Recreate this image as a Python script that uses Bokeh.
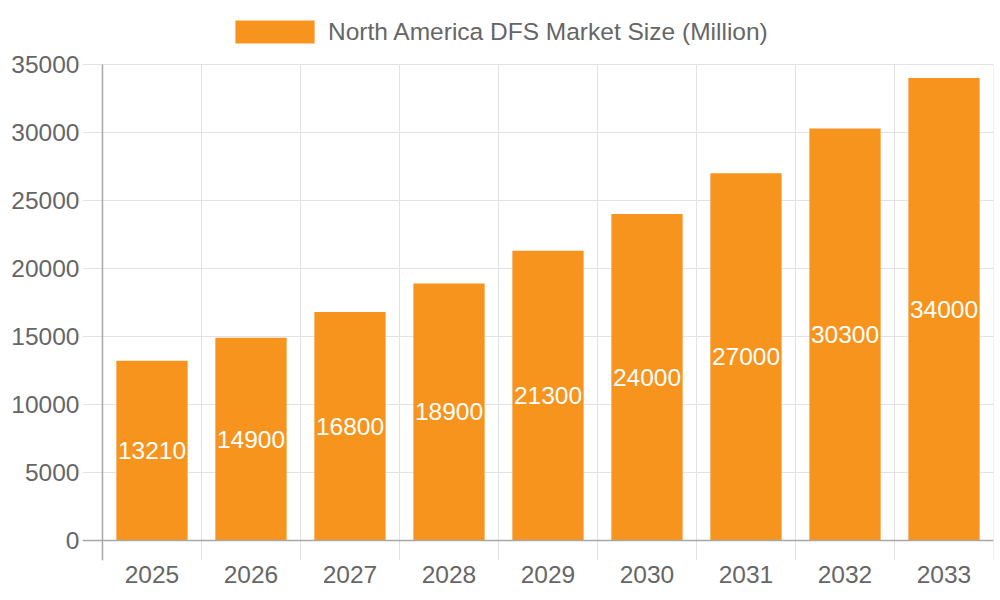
from bokeh.plotting import figure
from bokeh.embed import file_html
from bokeh.resources import INLINE
from bokeh.models import (ColumnDataSource, Range1d, FixedTicker, Span,
                          Legend, LegendItem)
from bokeh.core.properties import value

years = ["2025", "2026", "2027", "2028", "2029", "2030", "2031", "2032", "2033"]
market_size = [13210, 14900, 16800, 18900, 21300, 24000, 27000, 30300, 34000]
y_ticks = [0, 5000, 10000, 15000, 20000, 25000, 30000, 35000]
series_name = "North America DFS Market Size (Million)"

FONT = "Liberation Sans"
FSIZE = "24.5px"
BAR = "#F7941E"
TXT = "#666666"
GRID = "#e2e2e2"
AXIS = "#a8a8a8"

n = len(years)
centers = [i + 0.5 for i in range(n)]
boundaries = list(range(n + 1))

source = ColumnDataSource(dict(
    x=centers,
    top=market_size,
    mid=[v / 2 for v in market_size],
    label=[str(v) for v in market_size],
))

# frame reaches past the axes (tick marks) and up to the top (legend room)
px_per_unit = 476 / y_ticks[-1]
y_lo = -20 / px_per_unit
y_hi = y_ticks[-1] + 64 / px_per_unit
p = figure(
    width=1000, height=600,
    x_range=Range1d(-20 / 99.1, n),
    y_range=Range1d(y_lo, y_hi),
    output_backend="svg",
    toolbar_location=None,
    min_border_left=82, min_border_right=7,
    min_border_top=0, min_border_bottom=40,
)
p.outline_line_color = None

# vertical grid lines at category boundaries, stopping at the top tick
grid = ColumnDataSource(dict(x=boundaries,
                             y0=[y_lo] * len(boundaries),
                             y1=[y_ticks[-1]] * len(boundaries)))
p.segment(x0="x", y0="y0", x1="x", y1="y1", source=grid,
          line_color=GRID, line_width=1)
p.segment(x0=[0], y0=[y_lo], x1=[0], y1=[y_ticks[-1]],
          line_color=AXIS, line_width=1.5)

bars = p.vbar(x="x", top="top", width=0.72, source=source,
              fill_color=BAR, line_color=None)
p.text(x="x", y="mid", text="label", source=source,
       text_color="white", text_font=value(FONT), text_font_size=FSIZE,
       text_align="center", text_baseline="middle")

p.xaxis.ticker = FixedTicker(ticks=centers)
p.xaxis.major_label_overrides = {c: y for c, y in zip(centers, years)}
p.xaxis.axis_line_color = None
p.xaxis.major_tick_line_color = None
p.xaxis.minor_tick_line_color = None
p.xaxis.major_label_standoff = -1
p.xaxis.major_label_text_font = FONT
p.xaxis.major_label_text_font_size = FSIZE
p.xaxis.major_label_text_color = TXT
p.xgrid.grid_line_color = None

p.yaxis.ticker = FixedTicker(ticks=y_ticks)
p.yaxis.axis_line_color = None
p.yaxis.major_tick_line_color = None
p.yaxis.minor_tick_line_color = None
p.yaxis.major_label_standoff = -3
p.yaxis.major_label_text_font = FONT
p.yaxis.major_label_text_font_size = FSIZE
p.yaxis.major_label_text_color = TXT
p.ygrid.ticker = FixedTicker(ticks=y_ticks)
p.ygrid.grid_line_color = GRID

p.add_layout(Span(location=0, dimension="width", line_color=AXIS, line_width=1.5))

legend = Legend(
    items=[LegendItem(label=series_name, renderers=[bars])],
    location=(143, 514),
    orientation="horizontal",
    padding=0, margin=0, spacing=0,
    glyph_width=99, glyph_height=29,
    label_height=29, label_standoff=4,
    label_text_font=FONT, label_text_font_size=FSIZE,
    label_text_color=TXT,
    background_fill_alpha=0, border_line_alpha=0,
)
p.add_layout(legend)

open("out.html", "w").write(file_html(p, INLINE))
